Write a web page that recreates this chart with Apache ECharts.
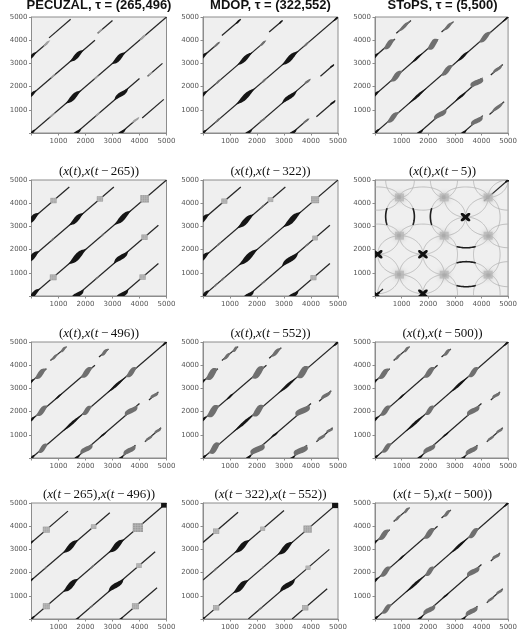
<!DOCTYPE html>
<html><head><meta charset="utf-8">
<script src="https://cdn.jsdelivr.net/npm/echarts@6/dist/echarts.min.js"></script>
<style>html,body{margin:0;padding:0;background:#fff}#c{width:520px;height:640px}</style>
</head><body><div id="c"></div>
<script>
// ---------- DATA ----------
const colTitles = ['PECUZAL, τ = (265,496)', 'MDOP, τ = (322,552)', 'SToPS, τ = (5,500)'];
const panelTitles = [
  '(x(t),x(t−265))', '(x(t),x(t−322))', '(x(t),x(t−5))',
  '(x(t),x(t−496))', '(x(t),x(t−552))', '(x(t),x(t−500))',
  '(x(t−265),x(t−496))', '(x(t−322),x(t−552))', '(x(t−5),x(t−500))'
];
const axisTicks = [0, 1000, 2000, 3000, 4000, 5000];

// rows: ['L', offset, x0, x1]  recurrence line y = x + offset
//       ['S', offset, x0, x1, halfWidth, tone]  lens-shaped band
//       ['Q', offset, x0, x1, tone]  block
//       ['C', cx, cy, left, right, down, up, darkSides]  closed curve (SToPS small delay)
//       ['X', x, y, size]  star-shaped blob
//       ['F', x, y, half]  diffuse block
const pecuzalFull = [
  ['L',0,0,5000],['L',1650,0,2350],['L',1850,2450,3000],['L',3300,0,550],['L',3450,650,1450],
  ['S',0,-100,160,70,0],['S',0,650,900,50,3],['S',0,1250,1850,150,0],['S',0,2300,2500,50,3],
  ['S',0,2950,3500,150,0],['S',0,4000,4250,70,3],
  ['S',1650,-150,200,90,0],['S',1650,700,900,50,3],['S',1650,1400,1950,140,0],['S',1850,2450,2650,50,3],
  ['S',3300,-150,200,90,0],['S',3300,420,700,70,3]
];
const mdopFull = [
  ['L',0,0,5000],['L',1650,0,2300],['L',1900,2450,2950],['L',3300,0,600],['L',3500,700,1400],
  ['S',0,-100,150,70,0],['S',0,430,680,60,2],['S',0,1200,1950,150,0],['S',0,2130,2380,60,2],
  ['S',0,2900,3550,150,0],['S',0,3700,3950,60,2],['S',0,4800,5100,60,0],
  ['S',1650,-150,180,90,0],['S',1650,430,680,60,2],['S',1650,1250,1850,130,0],['S',1650,2080,2350,70,2],
  ['S',1900,2800,2950,50,0],['S',3300,-150,180,90,0],['S',3300,380,650,60,2],['S',3500,1200,1400,60,0]
];
const stopsFull = [
  ['L',0,0,5000],['L',1650,0,2350],['L',1850,2500,2950],['L',3300,0,750],['L',3500,800,1350],
  ['S',0,-100,200,70,0],['S',0,420,920,160,2],['S',0,1250,1950,75,0],['S',0,2450,2950,160,2],
  ['S',0,3050,3550,85,0],['S',0,3880,4380,160,2],['S',0,4750,5100,50,0],
  ['S',1650,-150,180,80,0],['S',1650,550,1050,170,2],['S',1650,1350,1800,70,0],['S',1650,1950,2400,200,2],
  ['S',1850,2550,2950,100,2],['S',3300,-150,150,80,0],['S',3300,300,750,170,2],['S',3500,850,1350,100,2]
];
const xtXt265 = [
  ['L',0,0,5000],['L',1650,0,3050],['L',3300,0,1400],
  ['S',0,-150,330,130,0],['Q',0,680,930,2],['S',0,1350,2050,180,0],['S',0,2550,2720,50,2],
  ['S',0,3050,3700,160,0],['Q',0,4030,4350,2],
  ['S',1650,-200,300,150,0],['S',1650,700,870,50,2],['S',1650,1380,1950,150,0],['Q',1650,2420,2650,2],
  ['S',3300,-200,300,150,0],['Q',3300,700,930,2]
];
const xtXt322 = [
  ['L',0,0,5000],['L',1650,0,3050],['L',3300,0,1400],
  ['S',0,-100,250,110,0],['S',0,380,560,50,2],['S',0,620,820,50,2],['S',0,1300,2050,170,0],
  ['S',0,2330,2520,50,2],['S',0,2950,3650,170,0],['Q',0,4000,4300,2],
  ['S',1650,-200,250,130,0],['S',1650,480,680,50,2],['S',1650,1250,1900,160,0],['S',1650,2100,2300,50,2],
  ['Q',1650,2400,2600,2],['S',3300,-200,250,130,0],['Q',3300,680,900,2]
];
const xtXt5 = [
  ['L',0,-100,300],['L',0,4100,5000],
  ['C',950,1800,850,850,880,800,''],['C',925,3425,525,555,825,825,'LR'],['C',925,5000,525,555,750,750,''],
  ['C',2600,3425,520,800,825,825,'L'],['C',2600,5000,520,500,750,750,''],['C',4250,5000,550,750,750,750,''],
  ['C',100,920,820,820,820,880,''],['C',100,2600,820,820,800,500,''],['C',100,4250,820,820,550,450,''],
  ['C',1800,2600,880,800,800,500,''],['C',1800,4250,880,800,550,450,''],['C',3400,4250,800,850,850,450,''],
  ['F',920,920,170],['F',2600,2600,170],['F',4250,4250,170],['F',920,2600,170],['F',920,4250,170],['F',2600,4250,170],
  ['X',60,60,170],['X',100,1800,240],['X',1800,1800,240],['X',3400,3400,240],['X',5000,5000,150]
];
const xtXt496 = [
  ['L',0,0,5000],['L',1650,0,2350],['L',1850,2500,2850],['L',3300,0,550],['L',3500,700,1300],
  ['S',0,-100,150,70,0],['S',0,220,620,160,2],['S',0,1100,1900,80,0],['S',0,1850,2250,160,2],
  ['S',0,2800,3500,80,0],['S',0,3480,3920,170,2],['S',0,4800,5100,60,0],
  ['S',1650,-100,150,70,0],['S',1650,150,620,170,2],['S',1650,850,1150,50,0],['S',1650,1800,2280,180,2],
  ['S',1850,2550,2850,110,2],['S',3300,-100,100,70,0],['S',3300,100,560,170,2],
  ['S',3500,700,1000,80,2],['S',3500,1050,1300,90,2]
];
const xtXt552 = [
  ['L',0,0,5000],['L',1650,0,2350],['L',1850,2450,2900],['L',3300,0,550],['L',3500,700,1300],
  ['S',0,-100,150,70,0],['S',0,200,650,210,2],['S',0,1100,1950,85,0],['S',0,1800,2280,210,2],
  ['S',0,2750,3500,85,0],['S',0,3450,3950,220,2],['S',0,4800,5100,70,0],
  ['S',1650,-100,150,70,0],['S',1650,120,620,220,2],['S',1650,850,1150,60,0],['S',1650,1780,2300,220,2],
  ['S',1850,2500,2900,120,2],['S',3300,-100,100,70,0],['S',3300,80,560,220,2],
  ['S',3500,720,1050,100,2],['S',3500,1080,1300,100,2]
];
const xtXt500 = [
  ['L',0,0,5000],['L',1650,0,2350],['L',1850,2500,2850],['L',3300,0,550],['L',3500,700,1300],
  ['S',0,-100,150,70,0],['S',0,230,640,160,2],['S',0,1100,1900,80,0],['S',0,1850,2260,160,2],
  ['S',0,2800,3500,80,0],['S',0,3480,3920,170,2],['S',0,4800,5100,60,0],
  ['S',1650,-100,150,70,0],['S',1650,160,620,170,2],['S',1650,850,1150,50,0],['S',1650,1800,2280,180,2],
  ['S',1850,2550,2850,110,2],['S',3300,-100,100,70,0],['S',3300,100,560,170,2],
  ['S',3500,700,1000,80,2],['S',3500,1050,1300,90,2]
];
const x265X496 = [
  ['L',0,0,5000],['L',1680,0,2900],['L',3300,0,1350],
  ['S',0,-100,150,60,0],['Q',0,420,680,2],['S',0,1150,1750,170,0],['S',0,2150,2350,50,2],
  ['S',0,2850,3450,170,0],['Q',0,3750,4130,2],['Q',0,4800,5000,0],
  ['S',1680,-100,100,50,0],['S',1680,450,600,50,2],['S',1680,1150,1750,160,0],['Q',1680,2200,2400,2],
  ['S',3300,-100,100,50,0],['Q',3300,420,680,2]
];
const x322X552 = [
  ['L',0,0,5000],['L',1680,0,3000],['L',3300,0,1300],
  ['S',0,-100,100,60,0],['Q',0,370,600,2],['S',0,1100,1700,170,0],['S',0,2150,2280,50,2],
  ['S',0,2750,3350,170,0],['Q',0,3720,4030,2],['Q',0,4780,5000,0],
  ['S',1680,350,550,50,2],['S',1680,1150,1750,160,0],['Q',1680,2120,2300,2],
  ['Q',3300,370,600,2]
];
const x5X500 = [
  ['L',0,0,5000],['L',1650,0,2350],['L',1850,2500,2850],['L',3300,0,550],['L',3500,700,1300],
  ['S',0,-100,150,70,0],['S',0,230,640,160,2],['S',0,1100,1900,80,0],['S',0,1850,2260,160,2],
  ['S',0,2800,3500,80,0],['S',0,3480,3920,170,2],['S',0,4800,5100,60,0],
  ['S',1650,-100,150,70,0],['S',1650,160,620,170,2],['S',1650,850,1150,50,0],['S',1650,1800,2280,180,2],
  ['S',1850,2550,2850,110,2],['S',3300,-100,100,70,0],['S',3300,100,560,170,2],
  ['S',3500,700,1000,80,2],['S',3500,1050,1300,90,2]
];
const panels = [pecuzalFull, mdopFull, stopsFull, xtXt265, xtXt322, xtXt5,
                xtXt496, xtXt552, xtXt500, x265X496, x322X552, x5X500];

// ---------- LAYOUT / STYLE ----------
const GL = [31.5, 203, 375], GT = [17, 180, 342, 503], GW = 135, GH = 116;
const TONE = ['#151515', '#404040', '#6f6f6f', '#a0a0a0'];
const LIM = 5000;

function inside(p){ return p[0] >= 0 && p[0] <= LIM && p[1] >= 0 && p[1] <= LIM; }

function makeRender(rows){
  return function(params, api){
    const r = rows[params.dataIndex];
    const kind = r[0];
    const out = [];
    const onDiag = (kind === 'L' || kind === 'S' || kind === 'Q') ? r[1] === 0 : r[1] === r[2];
    const passes = onDiag ? [false] : [false, true];
    passes.forEach(function(m){
      const P = function(x, y){ return api.coord(m ? [y, x] : [x, y]); };
      if (kind === 'L') {
        const c = r[1];
        out.push({type:'polyline', z2:1, shape:{points:[P(r[2], r[2]+c), P(r[3], r[3]+c)]},
          style:{stroke:'#262626', lineWidth:1.25, fill:null}});
      } else if (kind === 'S') {
        const c = r[1], x0 = r[2], x1 = r[3], hw = r[4], N = 24, top = [], bot = [];
        for (let k = 0; k <= N; k++) {
          const u = k / N, x = x0 + (x1 - x0) * u, w = hw * Math.pow(Math.sin(Math.PI * u), 1.3);
          top.push(P(x, x + c + w)); bot.push(P(x, x + c - w));
        }
        out.push({type:'polygon', z2:2, shape:{points: top.concat(bot.reverse())}, style:{fill: TONE[r[5]]}});
      } else if (kind === 'Q') {
        const c = r[1], x0 = r[2], x1 = r[3];
        out.push({type:'polygon', z2:3, shape:{points:[P(x0,x0+c),P(x1,x0+c),P(x1,x1+c),P(x0,x1+c)]},
          style:{fill: r[4] === 0 ? TONE[0] : '#9c9c9c'}});
        if (r[4] !== 0) {
          for (let k = 1; k < 4; k++) {
            const x = x0 + (x1 - x0) * k / 4;
            out.push({type:'polyline', z2:4, shape:{points:[P(x, x0+c), P(x, x1+c)]}, style:{stroke:'#bdbdbd', lineWidth:0.6, fill:null}});
            out.push({type:'polyline', z2:4, shape:{points:[P(x0, x+c), P(x1, x+c)]}, style:{stroke:'#bdbdbd', lineWidth:0.6, fill:null}});
          }
        }
      } else if (kind === 'C') {
        const cx = r[1], cy = r[2], l = r[3], rr = r[4], d = r[5], u = r[6], flags = r[7];
        const pt = function(deg){
          const a = deg * Math.PI / 180, co = Math.cos(a), si = Math.sin(a);
          return [cx + co * (co >= 0 ? rr : l), cy + si * (si >= 0 ? u : d)];
        };
        const arc = function(a0, a1, style, z2){
          let seg = [];
          for (let a = a0; a <= a1 + 0.01; a += 3) {
            const q = pt(a);
            if (inside(q)) seg.push(P(q[0], q[1]));
            else { if (seg.length > 1) out.push({type:'polyline', z2:z2, shape:{points:seg}, style:style}); seg = []; }
          }
          if (seg.length > 1) out.push({type:'polyline', z2:z2, shape:{points:seg}, style:style});
        };
        arc(0, 360, {stroke:'#b3b3b3', lineWidth:0.8, fill:null}, 1);
        const centers = {R:0, U:90, L:180, D:270};
        for (const f of flags) {
          const a = centers[f];
          arc(a - 24, a + 24, {stroke:'#1e1e1e', lineWidth:1.6, fill:null, lineCap:'round'}, 2);
        }
      } else if (kind === 'X') {
        const x = r[1], y = r[2], s = r[3], pts = [];
        for (let a = 0; a < 360; a += 3) {
          const t = a * Math.PI / 180;
          const rad = s * (0.38 + 0.62 * Math.pow(Math.abs(Math.sin(2 * t)), 2.2));
          pts.push(P(x + rad * Math.cos(t), y + rad * Math.sin(t)));
        }
        out.push({type:'polygon', z2:5, shape:{points:pts}, style:{fill:'#111'}});
      } else if (kind === 'F') {
        const x = r[1], y = r[2], h = r[3];
        out.push({type:'polygon', z2:3, shape:{points:[P(x-h,y-h),P(x+h,y-h),P(x+h,y+h),P(x-h,y+h)]},
          style:{fill:'rgba(185,185,185,0.8)', shadowBlur:5, shadowColor:'rgba(180,180,180,0.9)'}});
        out.push({type:'polygon', z2:4, shape:{points:[P(x-h*0.5,y-h*0.4),P(x+h*0.3,y-h*0.4),P(x+h*0.3,y+h*0.5),P(x-h*0.5,y+h*0.5)]},
          style:{fill:'rgba(165,165,165,0.6)', shadowBlur:3, shadowColor:'rgba(165,165,165,0.8)'}});
      }
    });
    return {type:'group', children: out};
  };
}

function mathRich(s){
  const txt = s.replace(/−/g, '\u2009−\u2009');
  let out = '', buf = '', cur = null;
  for (const ch of txt) {
    const t = /[a-z]/.test(ch) ? 'i' : 'n';
    if (t !== cur && buf) { out += '{' + cur + '|' + buf + '}'; buf = ''; }
    cur = t; buf += ch;
  }
  if (buf) out += '{' + cur + '|' + buf + '}';
  return out;
}

const grids = [], xAxes = [], yAxes = [], series = [], graphics = [];
const serif = '"Liberation Serif", "DejaVu Serif", serif';
panels.forEach(function(rows, i){
  const row = Math.floor(i / 3), col = i % 3;
  grids.push({left: GL[col], top: GT[row], width: GW, height: GH, show: true,
    backgroundColor: '#efefef', borderColor: '#8c8c8c', borderWidth: 1});
  const axisCommon = {
    gridIndex: i, type: 'value', min: axisTicks[0], max: axisTicks[axisTicks.length-1],
    interval: axisTicks[1] - axisTicks[0],
    axisLine: {show: true, lineStyle: {color: '#8c8c8c', width: 1}},
    axisTick: {show: true, length: 2.5, lineStyle: {color: '#8c8c8c'}},
    splitLine: {show: false},
    axisLabel: {fontSize: 7, color: '#555', fontFamily: '"DejaVu Sans", sans-serif',
      showMaxLabel: true, showMinLabel: true, hideOverlap: false,
      formatter: function(v){ return v === 0 ? '' : String(v); }}
  };
  xAxes.push(Object.assign({}, axisCommon, {axisLabel: Object.assign({}, axisCommon.axisLabel, {margin: 5})}));
  yAxes.push(Object.assign({}, axisCommon, {axisLabel: Object.assign({}, axisCommon.axisLabel, {margin: 4})}));
  series.push({type: 'custom', xAxisIndex: i, yAxisIndex: i, coordinateSystem: 'cartesian2d',
    clip: true, silent: true, animation: false, renderItem: makeRender(rows),
    data: rows.map(function(_, k){ return [k, k]; })});
  const cxp = GL[col] + GW / 2;
  if (row === 0) {
    graphics.push({type: 'text', x: cxp, y: 5.5, style: {text: colTitles[col],
      font: 'bold 13px "Liberation Sans", Arial, sans-serif', fill: '#111',
      align: 'center', verticalAlign: 'middle', textAlign: 'center', textVerticalAlign: 'middle'}});
  } else {
    const t = panelTitles[(row - 1) * 3 + col];
    graphics.push({type: 'text', x: cxp, y: GT[row] - 8.5, style: {text: mathRich(t),
      align: 'center', verticalAlign: 'middle', textAlign: 'center', textVerticalAlign: 'middle',
      rich: {
        i: {fontFamily: serif, fontStyle: 'italic', fontSize: 13, fill: '#111', color: '#111'},
        n: {fontFamily: serif, fontSize: 13, fill: '#111', color: '#111'}
      }}});
  }
});

const chart = echarts.init(document.getElementById('c'), null, {renderer: 'canvas'});
chart.setOption({animation: false, backgroundColor: '#ffffff', grid: grids, xAxis: xAxes, yAxis: yAxes,
  series: series, graphic: graphics});
</script></body></html>
